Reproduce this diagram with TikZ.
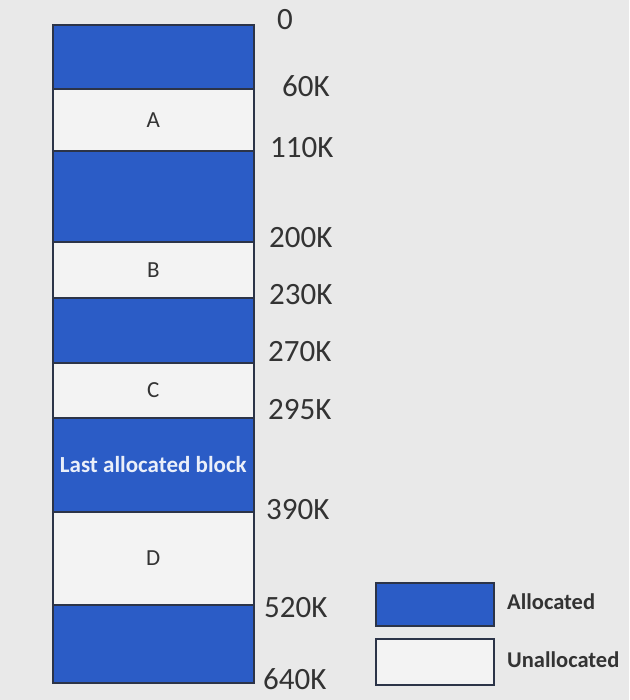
\documentclass[tikz,border=0pt]{standalone}
\usepackage{fontspec}
\setmainfont{Carlito}
\definecolor{blockblue}{HTML}{2B5CC6}
\definecolor{edgeline}{HTML}{2C3448}
\definecolor{paper}{HTML}{E9E9E9}
\definecolor{blank}{HTML}{F3F3F3}
\definecolor{ink}{HTML}{333333}
\tikzset{
  alloc/.style={draw=edgeline, fill=blockblue, line width=1.6pt, minimum width=201pt,
    anchor=north west, inner sep=0pt},
  free/.style={draw=edgeline, fill=blank, line width=1.6pt, minimum width=201pt,
    anchor=north west, inner sep=0pt, text=ink, font=\fontsize{23}{23}\selectfont},
  addr/.style={anchor=west, text=ink, font=\fontsize{31}{31}\selectfont, inner sep=0pt},
  keytext/.style={anchor=west, text=ink, font=\bfseries\fontsize{22.5}{22.5}\selectfont, inner sep=0pt}
}
\begin{document}
\begin{tikzpicture}[x=1pt, y=-1pt]
			\fill[paper] (0,0) rectangle (629,700);
			\useasboundingbox (0,0) rectangle (629,700);
			% memory blocks, top to bottom
			\node[alloc, minimum height=64pt] (os) at (52,24) {};
			\node[free, minimum height=62pt] (holeA) at (52,88) {A};
			\node[alloc, minimum height=91pt] (used1) at (52,150) {};
			\node[free, minimum height=56pt] (holeB) at (52,241) {B};
			\node[alloc, minimum height=65pt] (used2) at (52,297) {};
			\node[free, minimum height=55pt] (holeC) at (52,362) {C};
			\node[alloc, minimum height=94pt, text=white!90!blockblue,
			  font=\bfseries\fontsize{23}{23}\selectfont] (last) at (52,417) {Last allocated block};
			\node[free, minimum height=93pt] (holeD) at (52,511) {D};
			\node[alloc, minimum height=78pt] (used3) at (52,604) {};
			% addresses
			\node[addr] (a0) at (277,20) {0};
			\node[addr] (a60) at (282,86) {60K};
			\node[addr] (a110) at (270,148) {110K};
			\node[addr] (a200) at (269,238) {200K};
			\node[addr] (a230) at (269,295) {230K};
			\node[addr] (a270) at (268,352) {270K};
			\node[addr] (a295) at (268,410) {295K};
			\node[addr] (a390) at (266,510) {390K};
			\node[addr] (a520) at (264,608) {520K};
			\node[addr] (a640) at (263,679) {640K};
			% legend
			\node[alloc, minimum width=118pt, minimum height=43pt] (keyalloc) at (375,582) {};
			\node[free, minimum width=118pt, minimum height=46pt] (keyfree) at (375,638) {};
			\node[keytext] (keyalloclbl) at (507,602) {Allocated};
			\node[keytext] (keyfreelbl) at (507,660) {Unallocated};
		\end{tikzpicture}
\end{document}
